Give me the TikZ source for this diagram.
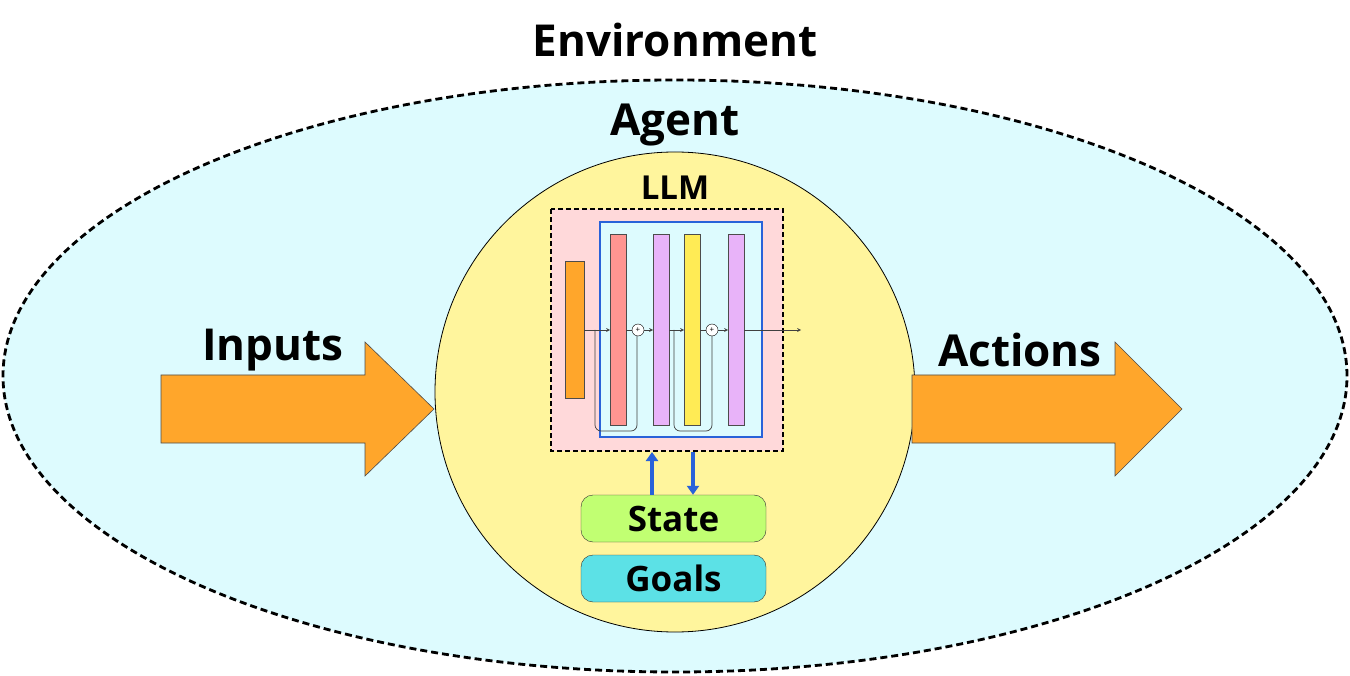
\documentclass[tikz,border=0pt]{standalone}
\usepackage{fontspec}
\setmainfont{Open Sans}
\usetikzlibrary{shapes.geometric,arrows.meta}
\definecolor{envc}{HTML}{DDFBFE}
\definecolor{agc}{HTML}{FFF59D}
\definecolor{orc}{HTML}{FFA62B}
\definecolor{llmc}{HTML}{FFD9DA}
\definecolor{blc}{HTML}{2962D9}
\definecolor{stc}{HTML}{C1FF72}
\definecolor{goc}{HTML}{5CE1E6}
\definecolor{redc}{HTML}{FF9591}
\definecolor{vic}{HTML}{E8B3F9}
\definecolor{yec}{HTML}{FFEB55}
\begin{document}
\begin{tikzpicture}[x=1pt,y=-1pt,
 big/.style={font=\fontsize{44}{48}\selectfont\bfseries},
 bar/.style={draw=black!70,line width=0.7pt},
 thin/.style={draw=black!75,line width=0.7pt},
 box/.style={draw=black!80,rounded corners=12pt,minimum width=185pt,minimum height=47pt,font=\fontsize{35}{38}\selectfont\bfseries},
 arr/.style={fill=orc,draw=black!70,line width=0.6pt},
 barr/.style={draw=blc,line width=3.2pt,-{Triangle[length=9pt,width=12pt]}}]
\useasboundingbox (0,0) rectangle (1350,676);
\node[ellipse,draw,line width=2.8pt,fill=envc,minimum width=1344pt,minimum height=592pt,dash pattern=on 7pt off 4pt] (env) at (675,376) {};
\node[big] (envt) at (675,40) {Environment};
\node[circle,draw,line width=0.8pt,fill=agc,minimum size=480pt] (agent) at (675,392) {};
\node[big] (agt) at (675,125) {Agent};
\node[font=\fontsize{33}{36}\selectfont\bfseries] (llmt) at (675,188) {LLM};
% arrows
\draw[arr] (161,375) -- (365,375) -- (365,342) -- (434,409) -- (365,476) -- (365,443) -- (161,443) -- cycle;
\draw[arr] (912,375) -- (1115,375) -- (1115,342) -- (1182,409) -- (1115,476) -- (1115,443) -- (912,443) -- cycle;
\node[big] (inp) at (273,350) {Inputs};
\node[big] (act) at (1020,350) {Actions};
% LLM block
\draw[fill=llmc,line width=1.6pt,dash pattern=on 5pt off 3pt] (551,209) rectangle (783,451);
\coordinate (llmb1) at (652,452); \coordinate (llmb2) at (693,452);
\draw[draw=blc,fill=envc,line width=1.8pt] (600,222) rectangle (762,437);
\draw[bar,fill=orc] (565,261) rectangle (584,398);
\draw[thin,->,>=stealth] (584,330) -- (610,330);
\draw[thin,rounded corners=6pt] (595,330) -- (595,431) -- (637,431) -- (637,336);
\draw[bar,fill=redc] (610,234) rectangle (626,425);
\draw[thin] (626,330) -- (632,330);
\node[circle,draw,inner sep=0pt,minimum size=12pt,fill=white,font=\fontsize{8}{8}\selectfont] (p1) at (638,330) {+};
\draw[thin,->,>=stealth] (p1) -- (653,330);
\draw[bar,fill=vic] (653,234) rectangle (669,425);
\draw[thin,->,>=stealth] (669,330) -- (684,330);
\draw[thin,rounded corners=6pt] (674,330) -- (674,431) -- (712,431) -- (712,336);
\draw[bar,fill=yec] (684,234) rectangle (700,425);
\draw[thin] (700,330) -- (706,330);
\node[circle,draw,inner sep=0pt,minimum size=12pt,fill=white,font=\fontsize{8}{8}\selectfont] (p2) at (712,330) {+};
\draw[thin,->,>=stealth] (p2) -- (728,330);
\draw[bar,fill=vic] (728,234) rectangle (744,425);
\draw[thin,->,>=stealth] (744,330) -- (801,330);
% state goals
\node[box,fill=stc] (state) at (673.5,518.5) {State};
\node[box,fill=goc] (goals) at (673.5,578.5) {Goals};
\draw[barr] (state.north -| llmb1) -- (llmb1);
\draw[barr] (llmb2) -- (state.north -| llmb2);
\end{tikzpicture}
\end{document}
